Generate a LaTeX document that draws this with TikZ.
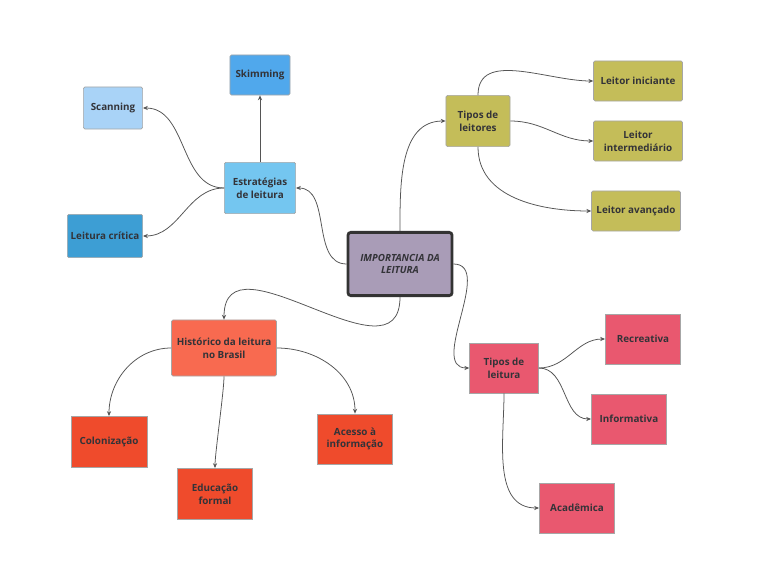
\documentclass[tikz,border=0pt]{standalone}
\usepackage{fontspec}
\setmainfont{Open Sans}
\usepackage{tikz}
\usetikzlibrary{arrows.meta}

\definecolor{skimblue}{HTML}{50A8EC}
\definecolor{scanblue}{HTML}{A9D3F7}
\definecolor{stratblue}{HTML}{74C6F0}
\definecolor{critblue}{HTML}{3D9ED4}
\definecolor{olive}{HTML}{C4BD59}
\definecolor{mainpurple}{HTML}{A99CB7}
\definecolor{histred}{HTML}{F86A50}
\definecolor{darkred}{HTML}{EF4B2C}
\definecolor{pinkred}{HTML}{E9586F}
\definecolor{linegray}{HTML}{555555}
\definecolor{textgray}{HTML}{333338}

\tikzset{
  box/.style={draw=gray!70, line width=0.5pt, rounded corners=1pt, align=center,
    font=\fontsize{7}{9}\selectfont\bfseries, text=textgray, inner sep=1pt},
  link/.style={draw=linegray, line width=0.55pt, -{Stealth[length=3.5pt,width=3pt]}}
}

\begin{document}
\begin{tikzpicture}[x=0.025cm, y=-0.025cm]
    \useasboundingbox (0,0) rectangle (768,563);

    % centre
    \node[box, fill=mainpurple, draw=black!80, line width=2pt, rounded corners=2pt,
      minimum width=2.6cm, minimum height=1.58cm, font=\fontsize{7}{9}\selectfont\bfseries\itshape]
      (imp) at (400,264) {IMPORTANCIA DA\\LEITURA};

    % estrategias
    \node[box, fill=stratblue, minimum width=1.78cm, minimum height=1.28cm] (estr) at (260,188) {Estratégias\\de leitura};
    \node[box, fill=skimblue, minimum width=1.5cm, minimum height=1.0cm] (skim) at (260,75) {Skimming};
    \node[box, fill=scanblue, minimum width=1.48cm, minimum height=1.05cm] (scan) at (113,108) {Scanning};
    \node[box, fill=critblue, minimum width=1.88cm, minimum height=1.08cm] (crit) at (105,236) {Leitura crítica};

    % tipos de leitores
    \node[box, fill=olive, minimum width=1.6cm, minimum height=1.28cm] (leitores) at (478,121) {Tipos de\\leitores};
    \node[box, fill=olive, minimum width=2.22cm, minimum height=1.0cm] (inic) at (638,81) {Leitor iniciante};
    \node[box, fill=olive, minimum width=2.22cm, minimum height=1.0cm] (inter) at (638,141) {Leitor\\intermediário};
    \node[box, fill=olive, minimum width=2.22cm, minimum height=1.0cm] (avanc) at (636,211) {Leitor avançado};

    % historico
    \node[box, fill=histred, minimum width=2.62cm, minimum height=1.4cm] (hist) at (224,348) {Histórico da leitura\\no Brasil};
    \node[box, fill=darkred, rounded corners=0pt, minimum width=1.9cm, minimum height=1.28cm] (colon) at (109,442) {Colonização};
    \node[box, fill=darkred, rounded corners=0pt, minimum width=1.88cm, minimum height=1.28cm] (educ) at (215,494) {Educação\\formal};
    \node[box, fill=darkred, rounded corners=0pt, minimum width=1.88cm, minimum height=1.25cm] (acesso) at (355,439) {Acesso à\\informação};

    % tipos de leitura
    \node[box, fill=pinkred, rounded corners=0pt, minimum width=1.72cm, minimum height=1.25cm] (leitura) at (504,368) {Tipos de\\leitura};
    \node[box, fill=pinkred, rounded corners=0pt, minimum width=1.88cm, minimum height=1.25cm] (recr) at (643,339) {Recreativa};
    \node[box, fill=pinkred, rounded corners=0pt, minimum width=1.88cm, minimum height=1.25cm] (info) at (629,419) {Informativa};
    \node[box, fill=pinkred, rounded corners=0pt, minimum width=1.88cm, minimum height=1.25cm] (acad) at (577,508) {Acadêmica};

    % ligacoes
    \draw[link] (imp.west) to[out=180, in=0] (estr.east);
    \draw[link] (estr.north) -- (skim.south);
    \draw[link] (estr.west) to[out=180, in=0] (scan.east);
    \draw[link] (estr.west) to[out=180, in=0] (crit.east);

    \draw[link] (imp.north) to[out=90, in=180] (leitores.west);
    \draw[link] (leitores.north) to[out=90, in=180] (inic.west);
    \draw[link] (leitores.east) to[out=0, in=180] (inter.west);
    \draw[link] (leitores.south) to[out=-90, in=180] (avanc.west);

    \draw[link] (imp.south) to[out=-90, in=90, looseness=1.3] (hist.north);
    \draw[link] (hist.west) to[out=180, in=90] (colon.north);
    \draw[link] (hist.south) to[out=-90, in=90, looseness=0.4] (educ.north);
    \draw[link] (hist.east) to[out=0, in=90] (acesso.north);

    \draw[link] (imp.east) to[out=0, in=180] (leitura.west);
    \draw[link] (leitura.east) to[out=0, in=180] (recr.west);
    \draw[link] (leitura.east) to[out=0, in=180] (info.west);
    \draw[link] (leitura.south) to[out=-90, in=180] (acad.west);
\end{tikzpicture}
\end{document}
